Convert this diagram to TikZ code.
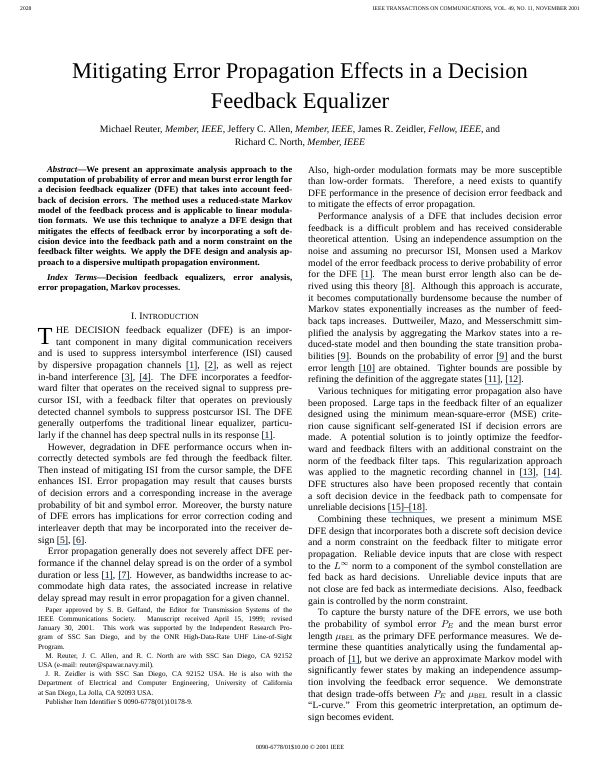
\documentclass[tikz,border=0pt]{standalone}
\usepackage{fontspec}
\setmainfont{Liberation Serif}
\definecolor{cblue}{RGB}{120,170,230}
\newdimen\colw \colw=254pt
\newcommand\JL[1]{\hbox to \colw{#1}}
\newcommand\LL[1]{\hbox{#1}}
\newcommand\bref[1]{\setbox0\hbox{#1}\rlap{\color{cblue}\rule[-1.6pt]{\wd0}{0.5pt}}\box0\relax}
\lineskiplimit=-20pt
\tikzset{col/.style={anchor=north west,inner sep=0pt,align=left}}
\begin{document}
\begin{tikzpicture}[x=1pt,y=-1pt]
\useasboundingbox[fill=white] (0,0) rectangle (600,776);
% header
\node[anchor=base west,inner sep=0,font=\fontsize{5.6}{6}\selectfont] (hl) at (20,11) {2028};
\node[anchor=base east,inner sep=0,font=\fontsize{5.6}{6}\selectfont] (hr) at (580,11) {IEEE TRANSACTIONS ON COMMUNICATIONS, VOL. 49, NO. 11, NOVEMBER 2001};
% title
\node[anchor=base,inner sep=0,font=\fontsize{22.5}{24}\selectfont] (t1) at (300,78) {Mitigating Error Propagation Effects in a Decision};
\node[anchor=base,inner sep=0,font=\fontsize{22.5}{24}\selectfont] (t2) at (300,108) {Feedback Equalizer};
\node[anchor=base,inner sep=0,font=\fontsize{9.8}{11}\selectfont] (a1) at (300,132) {Michael Reuter, \textit{Member, IEEE}, Jeffery C. Allen, \textit{Member, IEEE}, James R. Zeidler, \textit{Fellow, IEEE}, and};
\node[anchor=base,inner sep=0,font=\fontsize{9.8}{11}\selectfont] (a2) at (300,145) {Richard C. North, \textit{Member, IEEE}};
% abstract
\node[col] (abs) at (38,166) {\fontsize{8.8}{10.3}\selectfont\bfseries\vbox{
\JL{\hspace{1em}\textit{Abstract}---We present an approximate analysis approach to the}
\JL{computation of probability of error and mean burst error length for}
\JL{a decision feedback equalizer (DFE) that takes into account feed-}
\JL{back of decision errors. The method uses a reduced-state Markov}
\JL{model of the feedback process and is applicable to linear modula-}
\JL{tion formats. We use this technique to analyze a DFE design that}
\JL{mitigates the effects of feedback error by incorporating a soft de-}
\JL{cision device into the feedback path and a norm constraint on the}
\JL{feedback filter weights. We apply the DFE design and analysis ap-}
\LL{proach to a dispersive multipath propagation environment.}}};
\node[col] (idx) at (38,274) {\fontsize{8.8}{10.3}\selectfont\bfseries\vbox{
\JL{\hspace{1em}\textit{Index Terms}---Decision feedback equalizers, error analysis,}
\LL{error propagation, Markov processes.}}};
\node[anchor=base,inner sep=0,font=\fontsize{9.8}{11}\selectfont] (sec) at (165,319) {I. I{\fontsize{7.8}{9}\selectfont NTRODUCTION}};
% drop cap
\node[anchor=base west,inner sep=0,font=\fontsize{24.5}{26}\selectfont] (dc) at (37.5,344.7) {T};
% left body
\node[col] (left) at (38,326.5) {\fontsize{9.7}{11.65}\selectfont\vbox{
\JL{\hspace{18pt}HE DECISION feedback equalizer (DFE) is an impor-}
\JL{\hspace{18pt}tant component in many digital communication receivers}
\JL{and is used to suppress intersymbol interference (ISI) caused}
\JL{by dispersive propagation channels \bref{[1]}, \bref{[2]}, as well as reject}
\JL{in-band interference \bref{[3]}, \bref{[4]}. The DFE incorporates a feedfor-}
\JL{ward filter that operates on the received signal to suppress pre-}
\JL{cursor ISI, with a feedback filter that operates on previously}
\JL{detected channel symbols to suppress postcursor ISI. The DFE}
\JL{generally outperfoms the traditional linear equalizer, particu-}
\LL{larly if the channel has deep spectral nulls in its response \bref{[1]}.}
\JL{\hspace{1em}However, degradation in DFE performance occurs when in-}
\JL{correctly detected symbols are fed through the feedback filter.}
\JL{Then instead of mitigating ISI from the cursor sample, the DFE}
\JL{enhances ISI. Error propagation may result that causes bursts}
\JL{of decision errors and a corresponding increase in the average}
\JL{probability of bit and symbol error. Moreover, the bursty nature}
\JL{of DFE errors has implications for error correction coding and}
\JL{interleaver depth that may be incorporated into the receiver de-}
\LL{sign \bref{[5]}, \bref{[6]}.}
\JL{\hspace{1em}Error propagation generally does not severely affect DFE per-}
\JL{formance if the channel delay spread is on the order of a symbol}
\JL{duration or less \bref{[1]}, \bref{[7]}. However, as bandwidths increase to ac-}
\JL{commodate high data rates, the associated increase in relative}
\LL{delay spread may result in error propagation for a given channel.}}};
% footnote
\node[col] (fn) at (38,607) {\fontsize{7.2}{9.2}\selectfont\vbox{
\JL{\hspace{1em}Paper approved by S. B. Gelfand, the Editor for Transmission Systems of the}
\JL{IEEE Communications Society. Manuscript received April 15, 1999; revised}
\JL{January 30, 2001. This work was supported by the Independent Research Pro-}
\JL{gram of SSC San Diego, and by the ONR High-Data-Rate UHF Line-of-Sight}
\LL{Program.}
\JL{\hspace{1em}M. Reuter, J. C. Allen, and R. C. North are with SSC San Diego, CA 92152}
\LL{USA (e-mail: reuter@spawar.navy.mil).}
\JL{\hspace{1em}J. R. Zeidler is with SSC San Diego, CA 92152 USA. He is also with the}
\JL{Department of Electrical and Computer Engineering, University of California}
\LL{at San Diego, La Jolla, CA 92093 USA.}
\LL{\hspace{1em}Publisher Item Identifier S 0090-6778(01)10178-9.}}};
% right body
\node[col] (right) at (308,166) {\fontsize{9.7}{11.65}\selectfont\vbox{
\JL{Also, high-order modulation formats may be more susceptible}
\JL{than low-order formats. Therefore, a need exists to quantify}
\JL{DFE performance in the presence of decision error feedback and}
\LL{to mitigate the effects of error propagation.}
\JL{\hspace{1em}Performance analysis of a DFE that includes decision error}
\JL{feedback is a difficult problem and has received considerable}
\JL{theoretical attention. Using an independence assumption on the}
\JL{noise and assuming no precursor ISI, Monsen used a Markov}
\JL{model of the error feedback process to derive probability of error}
\JL{for the DFE \bref{[1]}. The mean burst error length also can be de-}
\JL{rived using this theory \bref{[8]}. Although this approach is accurate,}
\JL{it becomes computationally burdensome because the number of}
\JL{Markov states exponentially increases as the number of feed-}
\JL{back taps increases. Duttweiler, Mazo, and Messerschmitt sim-}
\JL{plified the analysis by aggregating the Markov states into a re-}
\JL{duced-state model and then bounding the state transition proba-}
\JL{bilities \bref{[9]}. Bounds on the probability of error \bref{[9]} and the burst}
\JL{error length \bref{[10]} are obtained. Tighter bounds are possible by}
\LL{refining the definition of the aggregate states \bref{[11]}, \bref{[12]}.}
\JL{\hspace{1em}Various techniques for mitigating error propagation also have}
\JL{been proposed. Large taps in the feedback filter of an equalizer}
\JL{designed using the minimum mean-square-error (MSE) crite-}
\JL{rion cause significant self-generated ISI if decision errors are}
\JL{made. A potential solution is to jointly optimize the feedfor-}
\JL{ward and feedback filters with an additional constraint on the}
\JL{norm of the feedback filter taps. This regularization approach}
\JL{was applied to the magnetic recording channel in \bref{[13]}, \bref{[14]}.}
\JL{DFE structures also have been proposed recently that contain}
\JL{a soft decision device in the feedback path to compensate for}
\LL{unreliable decisions \bref{[15]--[18]}.}
\JL{\hspace{1em}Combining these techniques, we present a minimum MSE}
\JL{DFE design that incorporates both a discrete soft decision device}
\JL{and a norm constraint on the feedback filter to mitigate error}
\JL{propagation. Reliable device inputs that are close with respect}
\JL{to the $L^\infty$ norm to a component of the symbol constellation are}
\JL{fed back as hard decisions. Unreliable device inputs that are}
\JL{not close are fed back as intermediate decisions. Also, feedback}
\LL{gain is controlled by the norm constraint.}
\JL{\hspace{1em}To capture the bursty nature of the DFE errors, we use both}
\JL{the probability of symbol error $P_E$ and the mean burst error}
\JL{length $\mu_{\mathrm{BEL}}$ as the primary DFE performance measures. We de-}
\JL{termine these quantities analytically using the fundamental ap-}
\JL{proach of \bref{[1]}, but we derive an approximate Markov model with}
\JL{significantly fewer states by making an independence assump-}
\JL{tion involving the feedback error sequence. We demonstrate}
\JL{that design trade-offs between $P_E$ and $\mu_{\mathrm{BEL}}$ result in a classic}
\JL{``L-curve.'' From this geometric interpretation, an optimum de-}
\LL{sign becomes evident.}}};
\node[anchor=base,inner sep=0,font=\fontsize{6.3}{7}\selectfont] (foot) at (300,749) {0090-6778/01\$10.00 \textcopyright{} 2001 IEEE};
\end{tikzpicture}
\end{document}
